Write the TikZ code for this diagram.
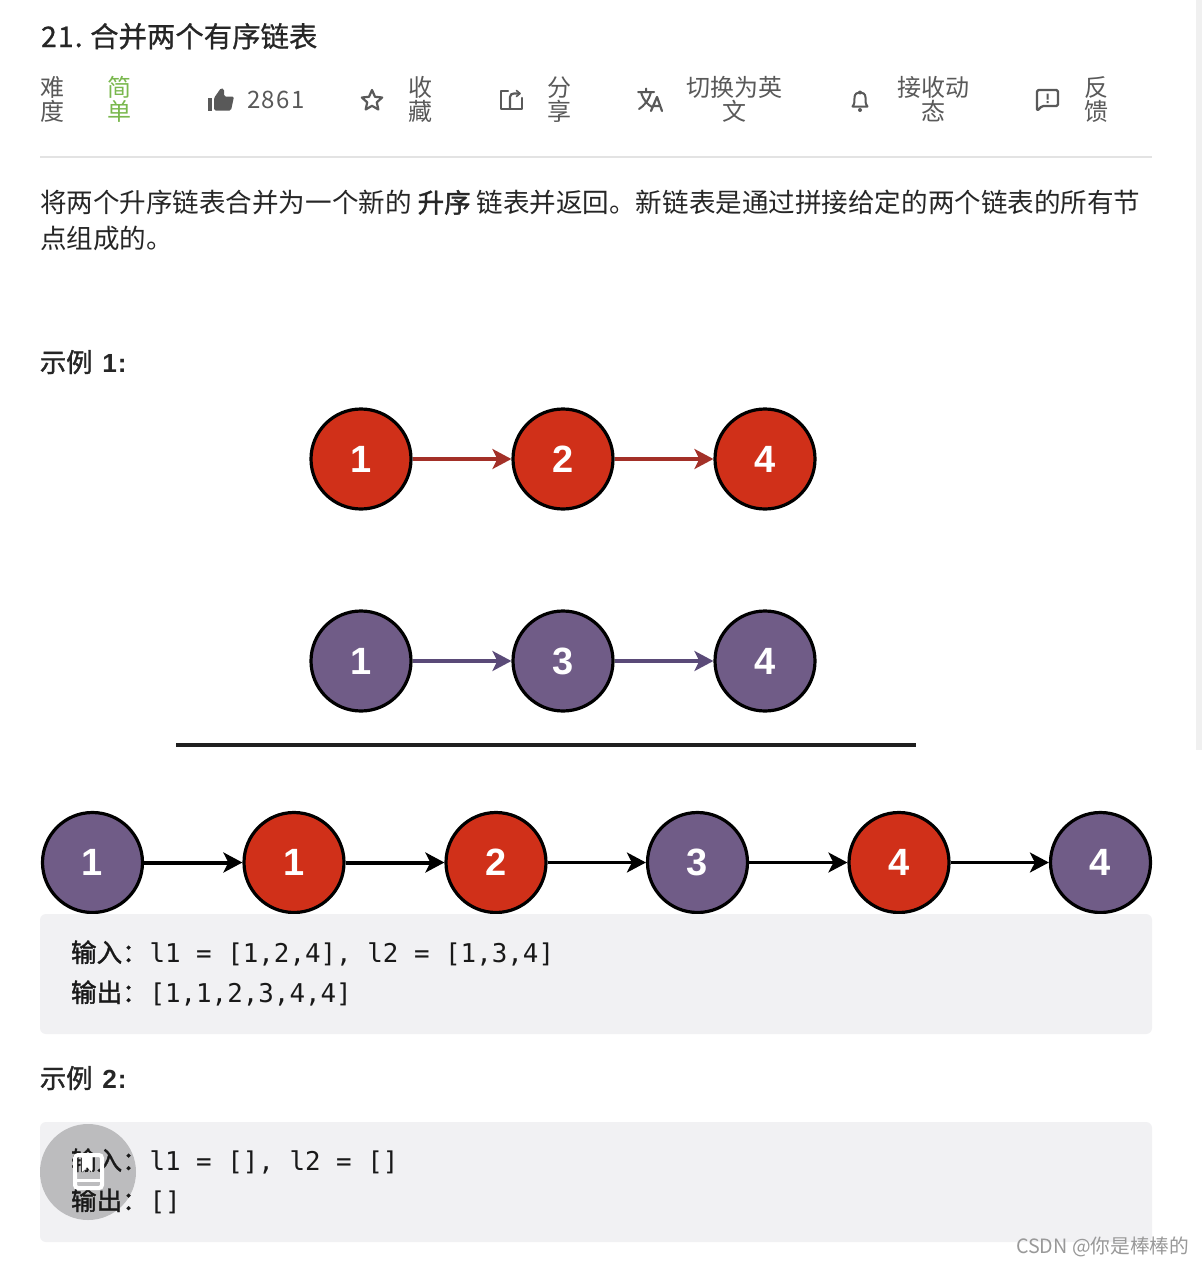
\documentclass[tikz,border=0pt]{standalone}
\usepackage{fontspec}
\setmainfont{Noto Sans CJK SC}
\newfontfamily\semib[FakeBold=1.4]{Noto Sans CJK SC}
\newfontfamily\titlefont[FakeBold=0.7]{Noto Sans CJK SC}
\newfontfamily\digitfont{Liberation Sans}
\newfontfamily\codefont{DejaVu Sans Mono}
\usetikzlibrary{arrows.meta}
\definecolor{nodered}{HTML}{D03019}
\definecolor{nodepurple}{HTML}{705C87}
\definecolor{arrred}{HTML}{A33028}
\definecolor{arrpurple}{HTML}{5A4A78}
\definecolor{metagray}{HTML}{595959}
\definecolor{easygreen}{HTML}{7AB84E}
\definecolor{codebg}{HTML}{F1F1F3}
\definecolor{bodyink}{HTML}{262626}
\definecolor{fabgray}{HTML}{BCBCBE}
\tikzset{
  x=1pt,y=-1pt,
  txt/.style={inner sep=0,outer sep=0,anchor=base west,text=bodyink},
  metatxt/.style={inner sep=0,outer sep=0,align=center,text=metagray,font=\fontsize{24}{24}\selectfont},
  listnode/.style={circle,draw=black,line width=3.2pt,minimum size=100pt,inner sep=0,text=white,font=\digitfont\bfseries\fontsize{38}{38}\selectfont},
  rednode/.style={listnode,fill=nodered},
  purplenode/.style={listnode,fill=nodepurple},
  link/.style={line width=3.4pt,-{Stealth[length=19pt,width=20pt,inset=5pt]}},
  redlink/.style={link,draw=arrred},
  purplelink/.style={link,draw=arrpurple},
  blacklink/.style={link,draw=black},
  heavylink/.style={blacklink,line width=4pt},
  lightlink/.style={blacklink,line width=2.8pt},
  codebox/.style={fill=codebg,rounded corners=6pt},
  codelabel/.style={txt,text=black!90,font=\semib\fontsize{25.6}{30}\selectfont},
  codetext/.style={txt,text=black!90,font=\codefont\fontsize{25.85}{30}\selectfont},
  icon/.style={draw=metagray,line width=2.2pt,line join=round,line cap=round},
}
\newcommand{\dg}[1]{\raisebox{-1pt}{#1}}
\begin{document}
\begin{tikzpicture}
\useasboundingbox (0,0) rectangle (1202,1266);
\fill[white] (0,0) rectangle (1202,1266);
% scrollbar
\fill[black!6] (1196,0) rectangle (1202,750);
% title
\node[txt,font=\titlefont\fontsize{28.4}{34}\selectfont] (title) at (41,47) {\addfontfeatures{LetterSpace=4}21.\hspace{7.5pt}\addfontfeatures{LetterSpace=0}合并两个有序链表};
% meta row
\node[metatxt] (m1) at (52,99.5) {难\\度};
\node[metatxt,text=easygreen] (m2) at (119.5,99.5) {简\\单};
\node[inner sep=0,anchor=base west,text=metagray,font=\fontsize{24}{24}\selectfont\addfontfeatures{LetterSpace=6}] (likes) at (247,108.5) {2861};
\node[metatxt] (m3) at (420,99.5) {收\\藏};
\node[metatxt] (m4) at (559,99.5) {分\\享};
\node[metatxt] (m5) at (734.5,99.5) {切换为英\\文};
\node[metatxt] (m6) at (933,99.5) {接收动\\态};
\node[metatxt] (m7) at (1096,99.5) {反\\馈};
% thumb icon
\fill[metagray] (208,98) rectangle (212,110.5);
\fill[metagray,rounded corners=1.5pt] (214,98) -- (221,88) -- (224,89) -- (224,96.5) -- (234,96.5) -- (231,110.5) -- (214,110.5) -- cycle;
% star icon
\draw[icon] (372,90) -- (375,96.8) -- (382.2,97.5) -- (376.8,102.3) -- (378.3,109.5) -- (372,105.8) -- (365.7,109.5) -- (367.2,102.3) -- (361.8,97.5) -- (369,96.8) -- cycle;
% share icon
\draw[icon] (508,91) -- (501,91) -- (501,109) -- (522,109) -- (522,98);
\draw[icon] (510,108) -- (510,97) .. controls (510,94.5) and (512,93.5) .. (514,93.5) -- (519,93.5);
\draw[icon,line width=1.6pt] (516.5,90.5) -- (520,93.5) -- (516.5,96.5);
% translate icon
\draw[icon,line width=2pt] (638,92) -- (654,92) (646,88.5) -- (646,92) (641,92) .. controls (643,100) and (648,105) .. (652,107) (651,92) .. controls (649,100) and (644,106) .. (639,109);
\draw[icon,line width=2.2pt] (651,111) -- (657,97) -- (662,111) (653.5,106) -- (660,106);
% bell icon
\draw[icon,line width=2pt] (852.5,106.5) .. controls (855,103.5) and (854.5,100.5) .. (854.5,97.5) .. controls (854.5,90.5) and (865.5,90.5) .. (865.5,97.5) .. controls (865.5,100.5) and (865,103.5) .. (867.5,106.5) -- cycle;
\fill[metagray] (860,92.5) circle (2pt) (860,110) circle (2pt);
% feedback icon
\draw[icon,rounded corners=1.5pt] (1037,90) -- (1058,90) -- (1058,106) -- (1042,106) -- (1037,111) -- cycle;
\fill[metagray] (1046.5,93.5) rectangle (1048.5,99.5) (1046.5,101) rectangle (1048.5,103);
% header rule
\draw[draw=black!11,line width=2pt] (40,157) -- (1152,157);
% description
\node[txt,align=left,font=\fontsize{26.55}{36}\selectfont,anchor=north west] (desc) at (40,190) {将两个升序链表合并为一个新的 {\semib 升序} 链表并返回。新链表是通过拼接给定的两个链表的所有节\\点组成的。};
\node[txt,font=\semib\fontsize{26.2}{30}\selectfont] (ex1) at (40,372) {示例\hspace{10pt}{\digitfont\bfseries 1}\hspace{1pt}{\digitfont\bfseries :}};
% lists
\node[rednode] (a1) at (361,459) {\dg{1}};
\node[rednode] (a2) at (563,459) {\dg{2}};
\node[rednode] (a3) at (765,459) {\dg{4}};
\draw[redlink] (a1) -- (a2);
\draw[redlink] (a2) -- (a3);
\node[purplenode] (b1) at (361,661) {\dg{1}};
\node[purplenode] (b2) at (563,661) {\dg{3}};
\node[purplenode] (b3) at (765,661) {\dg{4}};
\draw[purplelink] (b1) -- (b2);
\draw[purplelink] (b2) -- (b3);
\coordinate (ruleL) at (176,745);
\coordinate (ruleR) at (916,745);
\draw[draw=black!88,line width=4pt] (ruleL) -- (ruleR);
\node[purplenode] (c1) at (92.5,862.5) {\dg{1}};
\node[rednode] (c2) at (294,862.5) {\dg{1}};
\node[rednode] (c3) at (496,862.5) {\dg{2}};
\node[purplenode] (c4) at (697.5,862.5) {\dg{3}};
\node[rednode] (c5) at (899,862.5) {\dg{4}};
\node[purplenode] (c6) at (1100.5,862.5) {\dg{4}};
\draw[heavylink] (c1) -- (c2);
\draw[heavylink] (c2) -- (c3);
\draw[lightlink] (c3) -- (c4);
\draw[lightlink] (c4) -- (c5);
\draw[lightlink] (c5) -- (c6);
% code box 1
\path[codebox] (40,914) rectangle (1152,1034);
\node[codelabel] (in1) at (71,962) {输入：};
\node[codetext] (in1c) at (149.5,962) {l1 = [1,2,4], l2 = [1,3,4]};
\node[codelabel] (out1) at (71,1002) {输出：};
\node[codetext] (out1c) at (149.5,1002) {[1,1,2,3,4,4]};
\node[txt,font=\semib\fontsize{26.2}{30}\selectfont] (ex2) at (40,1088) {示例\hspace{10pt}{\digitfont\bfseries 2}\hspace{1pt}{\digitfont\bfseries :}};
% code box 2
\path[codebox] (40,1122) rectangle (1152,1242);
\fill[fabgray] (88,1172) circle (48);
\node[codelabel] (in2) at (71,1170) {输入：};
\node[codetext] (in2c) at (149.5,1170) {l1 = [], l2 = []};
\node[codelabel] (out2) at (71,1210) {输出：};
\node[codetext] (out2c) at (149.5,1210) {[]};
% floating book icon
\draw[white,line width=4pt,rounded corners=3pt] (75,1155) rectangle (102,1188);
\draw[white,line width=3pt] (75,1180) -- (102,1180);
\fill[white] (82,1155) -- (92,1155) -- (92,1172) -- (87,1167) -- (82,1172) -- cycle;
% watermark
\node[txt,text=black!40,font=\fontsize{19.7}{24}\selectfont] (mark) at (1016,1253) {CSDN @你是棒棒的};
\end{tikzpicture}
\end{document}
